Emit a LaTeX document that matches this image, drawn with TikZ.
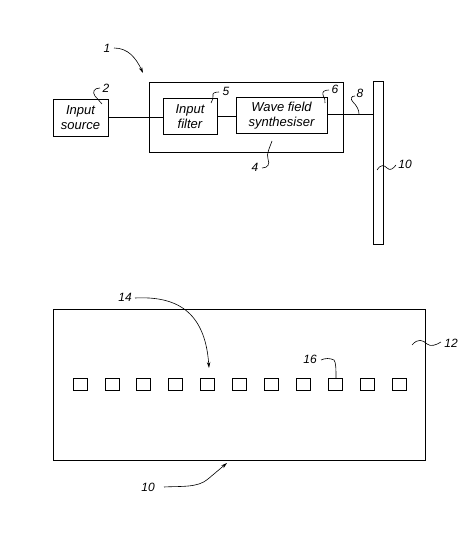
\documentclass[tikz,border=0pt]{standalone}
\usepackage{fontspec}
\setmainfont{Liberation Sans}
\usetikzlibrary{arrows.meta}
\begin{document}
\begin{tikzpicture}[x=1pt,y=-1pt,
  box/.style={draw,line width=0.8pt,inner sep=0pt},
  txt/.style={font=\itshape\fontsize{13}{15}\selectfont,align=center},
  lbl/.style={font=\itshape\fontsize{12}{13}\selectfont,inner sep=1pt},
  wire/.style={line width=0.7pt},
  lead/.style={line width=0.6pt},
  arr/.style={line width=0.6pt,-{Stealth[length=6pt,width=3.5pt]}}]
\useasboundingbox (0,0) rectangle (474,556);
% upper figure
\draw[box] (53,99) rectangle (108,136);
\node[txt] (src) at (80.5,118) {Input\\source};
\coordinate (srcE) at (108,117);
\draw[box] (149,82) rectangle (343,152);
\coordinate (unit) at (149,82);
\draw[box] (163,98) rectangle (217,134);
\node[txt] (filt) at (190,116.5) {Input\\filter};
\draw[box] (236,97) rectangle (327,133);
\node[txt] (wfs) at (281.5,115.5) {Wave field\\synthesiser};
\draw[box] (373,81) rectangle (383,244);
\coordinate (filtW) at (163,117);
\coordinate (filtE) at (217,116);
\coordinate (wfsW) at (236,116);
\coordinate (wfsE) at (327,114);
\coordinate (barW) at (373,114);
\draw[wire] (srcE) -- (filtW);
\draw[wire] (filtE) -- (wfsW);
\draw[wire] (wfsE) -- (barW);
% labels upper
\node[lbl] (l1) at (107,48) {1};
\coordinate (a1) at (143,73);
\draw[arr] (114,48) .. controls (128,48) and (136,58) .. (a1);
\node[lbl] (l2) at (106,88) {2};
\draw[lead] (100,88) .. controls (94,88) and (92,92) .. (95,96) .. controls (97,99) and (100,101) .. (102,104);
\node[lbl] (l5) at (226,91) {5};
\draw[lead] (219,92) .. controls (215,92) and (212,93) .. (213,96) .. controls (214,98) and (212,100) .. (211,103);
\node[lbl] (l6) at (335,89) {6};
\draw[lead] (329,90) .. controls (324,90) and (322,92) .. (323,95) .. controls (324,98) and (326,100) .. (325,103);
\node[lbl] (l8) at (360,93) {8};
\draw[lead] (355,96) .. controls (351,96) and (350,99) .. (353,102) .. controls (357,106) and (359,110) .. (359,114);
\node[lbl] (l4) at (255,167) {4};
\draw[lead] (262,168) .. controls (268,168) and (270,164) .. (268,159) .. controls (266,154) and (270,147) .. (272,141);
\node[lbl] (l10a) at (405,164) {10};
\draw[lead] (377,170) .. controls (381,164) and (384,165) .. (387,168) .. controls (390,171) and (393,169) .. (396,165);
% lower figure
\draw[box] (53,309) rectangle (425,460);
\foreach \i in {0,...,10} {
  \draw[line width=0.8pt] ({73+31.9*\i},378) rectangle ++(14,12);
}
\coordinate (sq16) at (336,378);
\coordinate (sq14) at (209,368);
\node[lbl] (l14) at (125,297) {14};
\draw[arr] (135,298) .. controls (175,296) and (205,310) .. (sq14);
\node[lbl] (l16) at (310,359) {16};
\draw[lead] (321,360) .. controls (325,358) and (330,358) .. (334,360) .. controls (336,362) and (336,370) .. (sq16);
\node[lbl] (l12) at (451,343) {12};
\draw[lead] (412,345) .. controls (418,338) and (423,340) .. (427,344) .. controls (431,347) and (436,345) .. (441,342);
\node[lbl] (l10b) at (148,487) {10};
\coordinate (a10) at (227,463);
\draw[arr] (164,487) .. controls (180,486) and (198,488) .. (208,479) -- (a10);
\end{tikzpicture}
\end{document}
